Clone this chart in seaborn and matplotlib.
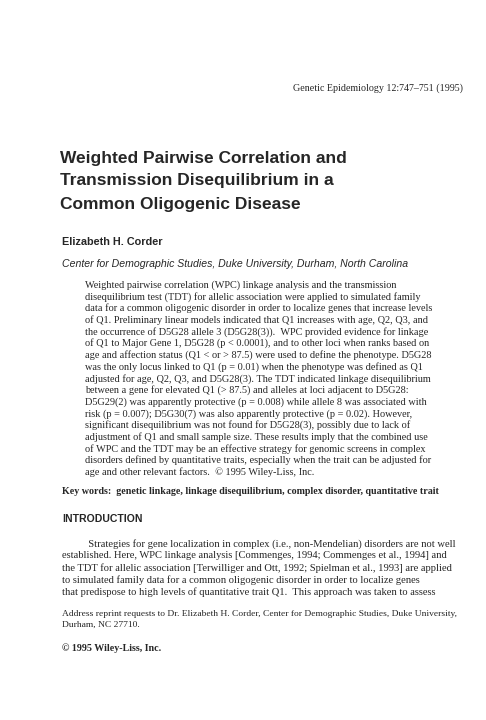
import matplotlib
matplotlib.use("Agg")
import matplotlib.pyplot as plt
import seaborn as sns

sns.set_style("white")
plt.rcParams['font.family'] = ['Liberation Serif', 'DejaVu Serif']

header = "Genetic Epidemiology 12:747\u2013751 (1995)"
title_lines = ["Weighted Pairwise Correlation and",
               "Transmission Disequilibrium in a",
               "Common Oligogenic Disease"]
author = "Elizabeth H. Corder"
affiliation = "Center for Demographic Studies, Duke University, Durham, North Carolina"
abstract_lines = [
    "Weighted pairwise correlation (WPC) linkage analysis and the transmission",
    "disequilibrium test (TDT) for allelic association were applied to simulated family",
    "data for a common oligogenic disorder in order to localize genes that increase levels",
    "of Q1. Preliminary linear models indicated that Q1 increases with age, Q2, Q3, and",
    "the occurrence of D5G28 allele 3 (D5G28(3)).  WPC provided evidence for linkage",
    "of Q1 to Major Gene 1, D5G28 (p < 0.0001), and to other loci when ranks based on",
    "age and affection status (Q1 < or > 87.5) were used to define the phenotype. D5G28",
    "was the only locus linked to Q1 (p = 0.01) when the phenotype was defined as Q1",
    "adjusted for age, Q2, Q3, and D5G28(3). The TDT indicated linkage disequilibrium",
    "between a gene for elevated Q1 (> 87.5) and alleles at loci adjacent to D5G28:",
    "D5G29(2) was apparently protective (p = 0.008) while allele 8 was associated with",
    "risk (p = 0.007); D5G30(7) was also apparently protective (p = 0.02). However,",
    "significant disequilibrium was not found for D5G28(3), possibly due to lack of",
    "adjustment of Q1 and small sample size. These results imply that the combined use",
    "of WPC and the TDT may be an effective strategy for genomic screens in complex",
    "disorders defined by quantitative traits, especially when the trait can be adjusted for",
    "age and other relevant factors.  \u00a9 1995 Wiley-Liss, Inc.",
]
keywords = "Key words:  genetic linkage, linkage disequilibrium, complex disorder, quantitative trait"
section = "INTRODUCTION"
intro_lines = [
    "          Strategies for gene localization in complex (i.e., non-Mendelian) disorders are not well",
    "established. Here, WPC linkage analysis [Commenges, 1994; Commenges et al., 1994] and",
    "the TDT for allelic association [Terwilliger and Ott, 1992; Spielman et al., 1993] are applied",
    "to simulated family data for a common oligogenic disorder in order to localize genes",
    "that predispose to high levels of quantitative trait Q1.  This approach was taken to assess",
]
address_lines = [
    "Address reprint requests to Dr. Elizabeth H. Corder, Center for Demographic Studies, Duke University,",
    "Durham, NC 27710.",
]
copyright_line = "\u00a9 1995 Wiley-Liss, Inc."

W, H = 486, 720
fig = plt.figure(figsize=(W/100, H/100), dpi=100)
ax = fig.add_axes([0, 0, 1, 1])
ax.set_xlim(0, W); ax.set_ylim(H, 0); ax.axis("off")

def t(x, y, s, **kw):
    ax.text(x, y, s, va="center", **kw)

t(463, 88, header, ha="right", fontsize=7.2)
sans = ['Liberation Sans', 'DejaVu Sans']
for i, s in enumerate(title_lines):
    t(60, 158 + i*23, s, fontsize=12.5, fontweight="bold", family=sans)
t(62, 242, author, fontsize=7.8, fontweight="bold", family=sans)
t(62, 264, affiliation, fontsize=7.6, style="italic", family=sans)
for i, s in enumerate(abstract_lines):
    t(85, 285 + i*11.7, s, fontsize=7.4)
t(62, 491, keywords, fontsize=7.2, fontweight="bold")
t(62, 519, section, fontsize=7.6, fontweight="bold", family=sans)
for i, s in enumerate(intro_lines):
    t(62, 544 + i*12, s, fontsize=7.55)
for i, s in enumerate(address_lines):
    t(62, 614 + i*11, s, fontsize=6.8)
t(62, 648, copyright_line, fontsize=7.2, fontweight="bold")

fig.savefig("out.png", dpi=100)
